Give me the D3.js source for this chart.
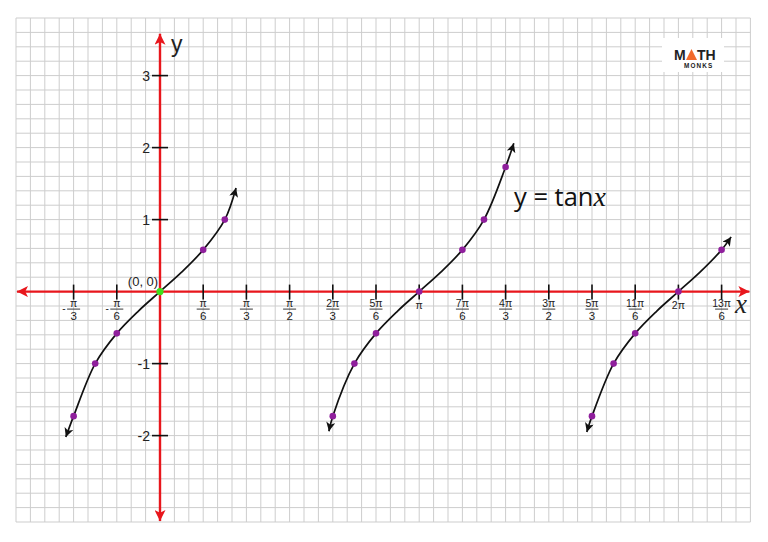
<!DOCTYPE html>
<html>
<head>
<meta charset="utf-8">
<script src="https://cdn.jsdelivr.net/npm/d3@7"></script>
<style>
  body { margin: 0; background: #fff; }
  svg { display: block; }
</style>
</head>
<body>
<svg width="768" height="542"></svg>
<script>
// x values are in units of pi/6
const xTickUnits = [-2, -1, 1, 2, 3, 4, 5, 6, 7, 8, 9, 10, 11, 12, 13];
const xTickLabels = ['-π/3', '-π/6', 'π/6', 'π/3', 'π/2', '2π/3', '5π/6', 'π',
  '7π/6', '4π/3', '3π/2', '5π/3', '11π/6', '2π', '13π/6'];
const yTicks = [3, 2, 1, -1, -2];

// the three branches (y = tan x)
const branch1X = [-2.18, -2, -1.5, -1, -0.5, 0, 0.5, 1, 1.5, 1.76];
const branch1Y = [-2.02, -1.73, -1, -0.58, -0.27, 0, 0.27, 0.58, 1, 1.44];
const branch2X = [3.91, 4, 4.5, 5, 5.5, 6, 6.5, 7, 7.5, 8, 8.19];
const branch2Y = [-1.94, -1.73, -1, -0.58, -0.27, 0, 0.27, 0.58, 1, 1.73, 2.06];
const branch3X = [9.88, 10, 10.5, 11, 11.5, 12, 12.5, 13, 13.22];
const branch3Y = [-1.95, -1.73, -1, -0.58, -0.27, 0, 0.27, 0.58, 0.76];

// marked points
const dotX = [-2, -1.5, -1, 1, 1.5, 4, 4.5, 5, 6, 7, 7.5, 8, 10, 10.5, 11, 12, 13];
const dotY = [-1.73, -1, -0.58, 0.58, 1, -1.73, -1, -0.58, 0, 0.58, 1, 1.73, -1.73, -1, -0.58, 0, 0.58];

const svg = d3.select('svg');

const gridLeft = 16, gridRight = 750.4, gridTop = 18, gridBottom = 522;

const xScale = d3.scaleLinear().domain([-10 / 3, 41 / 3]).range([gridLeft, gridRight]);
const yScale = d3.scaleLinear().domain([-3.2, 3.8]).range([gridBottom, gridTop]);

const red = '#e8161c';

// defs: arrowheads
const defs = svg.append('defs');
const marker = (id, color, w, h) => {
  defs.append('marker')
    .attr('id', id)
    .attr('viewBox', '0 0 10 10')
    .attr('refX', 10).attr('refY', 5)
    .attr('markerUnits', 'userSpaceOnUse')
    .attr('markerWidth', w).attr('markerHeight', h)
    .attr('orient', 'auto-start-reverse')
    .append('path')
    .attr('d', 'M0,0 L10,5 L0,10 L2.5,5 Z')
    .attr('fill', color);
};
marker('redArrow', red, 13, 11);
marker('blackArrow', '#111', 10, 9);

// grid, one line every pi/18 across and every 0.2 up
const grid = svg.append('g').attr('stroke', '#cdcdcd').attr('stroke-width', 1);
grid.selectAll('.vx')
  .data(d3.range(-10, 42))
  .enter().append('line')
  .attr('x1', (d) => xScale(d / 3)).attr('x2', (d) => xScale(d / 3))
  .attr('y1', gridTop).attr('y2', gridBottom);
grid.selectAll('.hy')
  .data(d3.range(-16, 20))
  .enter().append('line')
  .attr('y1', (d) => yScale(d / 5)).attr('y2', (d) => yScale(d / 5))
  .attr('x1', gridLeft).attr('x2', gridRight);

// logo
const logo = svg.append('g');
logo.append('rect')
  .attr('x', 662).attr('y', 38).attr('width', 62).attr('height', 34)
  .attr('fill', '#fff');
logo.append('text')
  .attr('x', 674).attr('y', 60)
  .attr('font-family', 'Liberation Sans, Arial, sans-serif')
  .attr('font-weight', 'bold').attr('font-size', 14).attr('fill', '#222')
  .text('M');
logo.append('path')
  .attr('d', 'M686,60 L691.5,49 L697,60 Z')
  .attr('fill', '#f26a2a');
logo.append('text')
  .attr('x', 697).attr('y', 60)
  .attr('font-family', 'Liberation Sans, Arial, sans-serif')
  .attr('font-weight', 'bold').attr('font-size', 14).attr('fill', '#222')
  .text('TH');
logo.append('text')
  .attr('x', 684).attr('y', 67.5)
  .attr('font-family', 'Liberation Sans, Arial, sans-serif')
  .attr('font-weight', 'bold').attr('font-size', 6.4).attr('fill', '#222')
  .attr('letter-spacing', 1.1)
  .text('MONKS');

// axes
const x0 = xScale(0), y0 = yScale(0);
svg.append('line')
  .attr('x1', xScale(41 / 3) - 1).attr('x2', gridLeft + 1)
  .attr('y1', y0).attr('y2', y0)
  .attr('stroke', red).attr('stroke-width', 2.4)
  .attr('marker-start', 'url(#redArrow)').attr('marker-end', 'url(#redArrow)');
svg.append('line')
  .attr('x1', x0).attr('x2', x0)
  .attr('y1', yScale(-3.2) - 1).attr('y2', yScale(3.58))
  .attr('stroke', red).attr('stroke-width', 2.4)
  .attr('marker-start', 'url(#redArrow)').attr('marker-end', 'url(#redArrow)');

// x ticks + fraction labels
const xt = svg.append('g')
  .attr('font-family', 'Liberation Sans, Arial, sans-serif')
  .attr('fill', '#222');
xTickUnits.forEach((u, i) => {
  const px = xScale(u);
  xt.append('line')
    .attr('x1', px).attr('x2', px)
    .attr('y1', y0 - 7).attr('y2', y0 + 8)
    .attr('stroke', '#111').attr('stroke-width', 1.6);
  let lab = xTickLabels[i];
  let neg = false;
  if (lab[0] === '-') { neg = true; lab = lab.slice(1); }
  const parts = lab.split('/');
  if (parts.length === 1) {
    xt.append('text')
      .attr('x', px).attr('y', y0 + 17)
      .attr('text-anchor', 'middle').attr('font-size', 10.5)
      .text(parts[0]);
  } else {
    xt.append('text')
      .attr('x', px).attr('y', y0 + 15)
      .attr('text-anchor', 'middle').attr('font-size', 10.5)
      .text(parts[0]);
    xt.append('line')
      .attr('x1', px - 6.5).attr('x2', px + 6.5)
      .attr('y1', y0 + 17.5).attr('y2', y0 + 17.5)
      .attr('stroke', '#222').attr('stroke-width', 0.9);
    xt.append('text')
      .attr('x', px).attr('y', y0 + 28)
      .attr('text-anchor', 'middle').attr('font-size', 11.5)
      .text(parts[1]);
    if (neg) {
      xt.append('text')
        .attr('x', px - 8).attr('y', y0 + 20)
        .attr('text-anchor', 'end').attr('font-size', 10)
        .text('-');
    }
  }
});

// y ticks
const yt = svg.append('g')
  .attr('font-family', 'Liberation Sans, Arial, sans-serif')
  .attr('fill', '#222');
yTicks.forEach((v) => {
  const py = yScale(v);
  yt.append('line')
    .attr('x1', x0 - 8).attr('x2', x0 + 8)
    .attr('y1', py).attr('y2', py)
    .attr('stroke', '#111').attr('stroke-width', 1.6);
  yt.append('text')
    .attr('x', x0 - 10).attr('y', py + 5)
    .attr('text-anchor', 'end').attr('font-size', 14)
    .text(v);
});

// curves
const line = d3.line()
  .x((d) => xScale(d[0]))
  .y((d) => yScale(d[1]))
  .curve(d3.curveCatmullRom);
[[branch1X, branch1Y], [branch2X, branch2Y], [branch3X, branch3Y]].forEach(([bx, by]) => {
  svg.append('path')
    .datum(bx.map((v, i) => [v, by[i]]))
    .attr('d', line)
    .attr('fill', 'none')
    .attr('stroke', '#111').attr('stroke-width', 1.7)
    .attr('marker-start', 'url(#blackArrow)').attr('marker-end', 'url(#blackArrow)');
});

// dots
svg.selectAll('.dot')
  .data(dotX.map((v, i) => [v, dotY[i]]))
  .enter().append('circle')
  .attr('cx', (d) => xScale(d[0])).attr('cy', (d) => yScale(d[1]))
  .attr('r', 3.3)
  .attr('fill', '#8f1f9c');
svg.append('circle')
  .attr('cx', x0).attr('cy', y0).attr('r', 3.6)
  .attr('fill', '#3ee01a');

// labels
svg.append('text')
  .attr('x', 143).attr('y', 286)
  .attr('text-anchor', 'middle')
  .attr('font-family', 'Liberation Sans, Arial, sans-serif')
  .attr('font-size', 13).attr('fill', '#222')
  .text('(0, 0)');
svg.append('text')
  .attr('x', 171).attr('y', 52)
  .attr('font-family', 'Liberation Sans, Arial, sans-serif')
  .attr('font-size', 23).attr('fill', '#222')
  .text('y');
svg.append('text')
  .attr('x', 735).attr('y', 313)
  .attr('font-family', 'Liberation Serif, serif')
  .attr('font-style', 'italic')
  .attr('font-size', 27).attr('fill', '#222')
  .text('x');

const eq = svg.append('text')
  .attr('x', 514).attr('y', 206)
  .attr('font-family', 'Open Sans, sans-serif')
  .attr('font-size', 25.5).attr('fill', '#111');
eq.append('tspan').text('y = tan');
eq.append('tspan')
  .attr('font-family', 'Liberation Serif, serif')
  .attr('font-style', 'italic')
  .attr('font-size', 28)
  .text('x');
</script>
</body>
</html>
